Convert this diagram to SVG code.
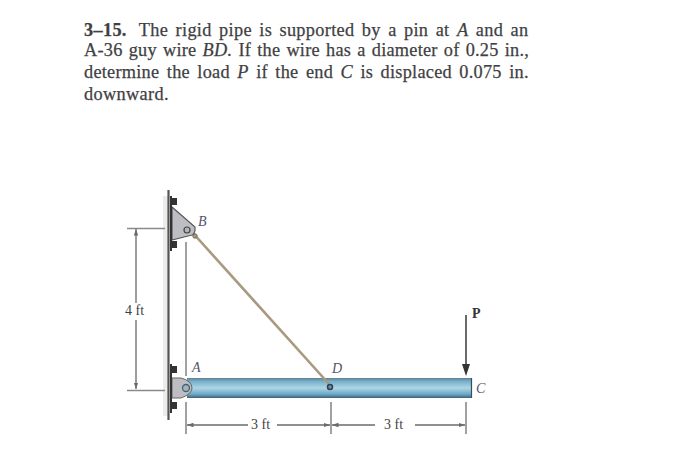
<svg xmlns="http://www.w3.org/2000/svg" width="700" height="451" viewBox="0 0 700 451">
<style>
text{font-family:"Liberation Serif","Times New Roman",serif;fill:#3f3f44}
.b{font-size:18.3px;letter-spacing:.25px;stroke:#3f3f44;stroke-width:.25px}
.l{font-size:14px}
.i{font-style:italic;fill:#55556a}
.d{stroke:#6a6a6a;stroke-width:1.300;fill:none}
.t{stroke:#8a8a8a;stroke-width:1.600;fill:none}
</style>
<defs>
<linearGradient id="pipe" x1="0" y1="0" x2="0" y2="1">
<stop offset="0" stop-color="#5f7f92"/><stop offset=".15" stop-color="#74acc8"/><stop offset=".5" stop-color="#aed6e6"/><stop offset=".82" stop-color="#68a6c4"/><stop offset="1" stop-color="#3f6175"/>
</linearGradient>
<marker id="ah" markerWidth="6" markerHeight="6" refX="5" refY="2.500" orient="auto-start-reverse"><path d="M0 .8L5 2.500L0 4.200Z" fill="#6a6a6a"/></marker>
</defs>
<g id="problem-text">
<text class="b" x="84" y="36" style="word-spacing:2.500px;letter-spacing:.32px"><tspan font-weight="bold">3–15.</tspan>  <tspan dx="5">The rigid pipe is supported by a pin at </tspan><tspan font-style="italic">A</tspan> and an</text>
<text class="b" x="84" y="56" style="word-spacing:1.300px">A-36 guy wire <tspan font-style="italic">BD.</tspan> If the wire has a diameter of 0.25 in.,</text>
<text class="b" x="84" y="78" style="word-spacing:2.650px">determine the load <tspan font-style="italic">P</tspan> if the end <tspan font-style="italic">C</tspan> is displaced 0.075 in.</text>
<text class="b" x="84" y="100" style="letter-spacing:.35px">downward.</text>
</g>
<g id="wall">
<rect x="163" y="196" width="5" height="220" fill="#ececea"/>
<path d="M168.500 190V420" stroke="#555" stroke-width="2.200"/>
</g>
<g id="connectors">
<path class="t" d="M127 228.500H165M127 390.500H165"/>
<path class="d" d="M136 303V229" marker-end="url(#ah)"/>
<path class="d" d="M136 320V389" marker-end="url(#ah)"/>
<path class="t" d="M186 242V376M186 402V434M331 402V434M466 402V434"/>
<path class="d" d="M248 425H187" marker-end="url(#ah)"/>
<path class="d" d="M277 425H330" marker-end="url(#ah)"/>
<path class="d" d="M375 425H332" marker-end="url(#ah)"/>
<path class="d" d="M415 425H465" marker-end="url(#ah)"/>
<path d="M466 315V364" stroke="#444" stroke-width="1.600"/>
<path d="M462 364H470L466 376Z" fill="#333"/>
</g>
<g id="pipe-acd">
<rect x="187" y="378" width="285" height="20" fill="url(#pipe)"/>
<path d="M471.500 378V398" stroke="#33505f" stroke-width="1.200"/>
</g>
<g id="wire-bd">
<path d="M192 232L329 384" stroke="#a89a80" stroke-width="2.600"/>
<circle cx="195" cy="236" r="2.200" fill="#a89a80" stroke="#776b55"/>
</g>
<g id="pin-d"><circle cx="330" cy="387" r="2.500" fill="#6d93a8" stroke="#2f3d4d" stroke-width="1.500"/></g>
<g id="bracket-b">
<path d="M172 207L195 227Q196 236 188 236L172 240Z" fill="#bdbdc4" stroke="#555" stroke-width="1.200"/>
<path d="M170 196h2v2h5v7h-5v3h-2zM170 238h2v3h5v7h-5v3h-2z" fill="#333"/>
<path d="M171 208V239" stroke="#333" stroke-width="2"/>
<circle cx="187" cy="230" r="3" fill="#b5b5b0" stroke="#444" stroke-width="1.200"/>
</g>
<g id="bracket-a">
<path d="M172 378H181Q192 381 192 388Q192 394 181 398H172Z" fill="#bdbdc4" stroke="#666" stroke-width="1"/>
<path d="M170 364h2v2h5v7h-5v4h-2zM170 399h2v3h5v7h-5v4h-2z" fill="#333"/>
<path d="M171 377V399" stroke="#333" stroke-width="2"/>
<circle cx="186" cy="388" r="3.500" fill="#9fb4bd" stroke="#46606f" stroke-width="1.300"/>
</g>
<g id="labels">
<text class="l" x="125" y="315">4 ft</text>
<text class="l" x="251" y="429">3 ft</text>
<text class="l" x="384" y="429">3 ft</text>
<text class="l i" x="198" y="226">B</text>
<text class="l i" x="192" y="372">A</text>
<text class="l i" x="332" y="373">D</text>
<text class="l i" x="476" y="393">C</text>
<text class="l" x="472" y="318" font-weight="bold" style="fill:#333">P</text>
</g>
</svg>
